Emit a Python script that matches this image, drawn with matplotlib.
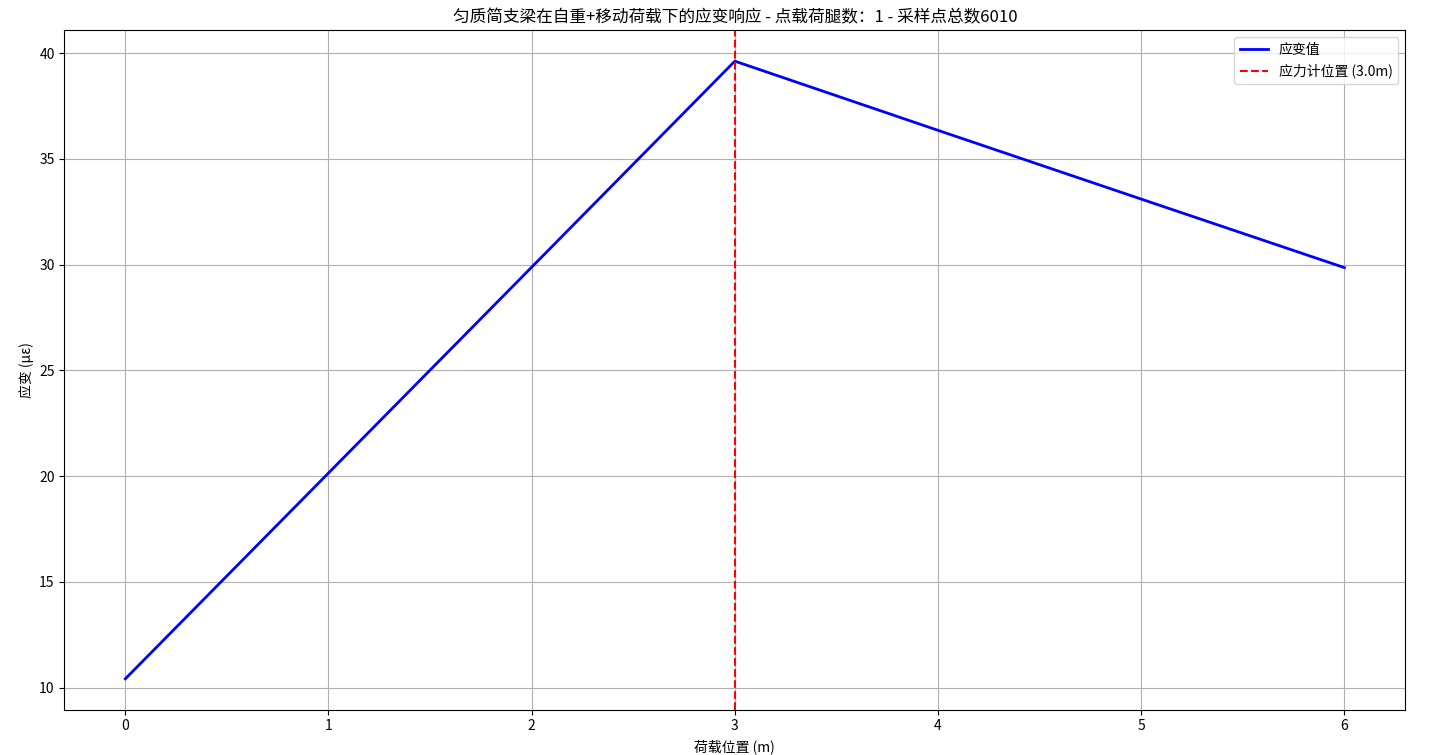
import matplotlib
matplotlib.use("Agg")
import matplotlib.pyplot as plt

plt.rcParams['font.family'] = ['Noto Sans CJK SC', 'DejaVu Sans']
plt.rcParams['axes.unicode_minus'] = False

# Data
load_pos = [0, 1, 2, 3, 4, 5, 6]
strain = [10.42, 20.15, 29.88, 39.62, 36.35, 33.10, 29.86]
gauge_pos = 3.0

title = "匀质简支梁在自重+移动荷载下的应变响应 - 点载荷腿数：1 - 采样点总数6010"
xlabel = "荷载位置 (m)"
ylabel = "应变 (με)"
line_label = "应变值"
gauge_label = f"应力计位置 ({gauge_pos:.1f}m)"

fig, ax = plt.subplots(figsize=(14.4, 7.55), dpi=100)
fig.subplots_adjust(left=0.0447, right=0.9759, top=0.9599, bottom=0.0600)
ax.plot(load_pos, strain, color='blue', linewidth=2, label=line_label)
ax.axvline(gauge_pos, color='red', linestyle='--', linewidth=1.5, label=gauge_label)
ax.set_title(title)
ax.set_xlabel(xlabel)
ax.set_ylabel(ylabel)
ax.grid(True)
ax.legend(loc='upper right')
fig.savefig("out.png", dpi=100)
